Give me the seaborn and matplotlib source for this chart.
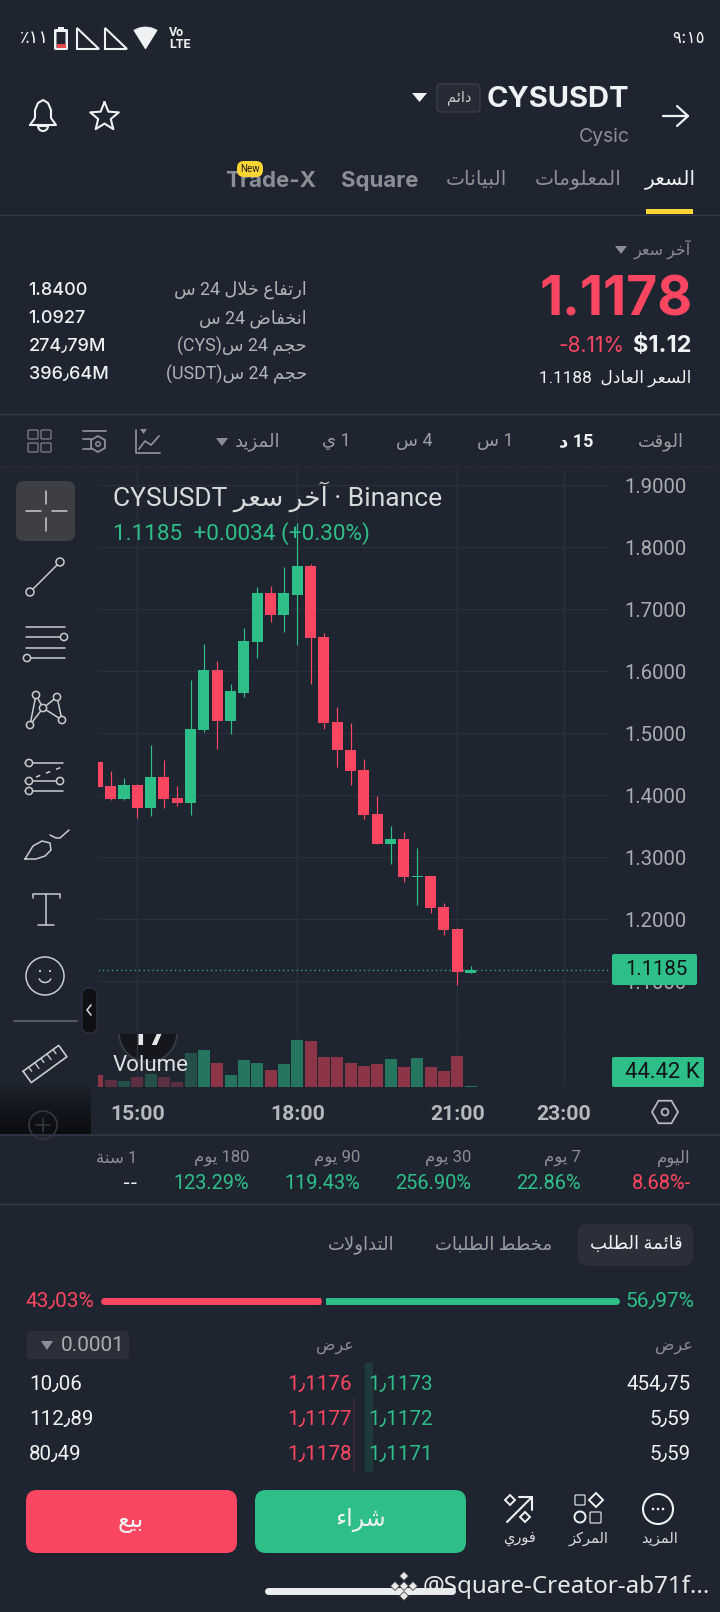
# -*- coding: utf-8 -*-
import re
import numpy as np
import pandas as pd
import seaborn as sns
import matplotlib
matplotlib.use("Agg")
import matplotlib.pyplot as plt
from matplotlib.patches import Circle, Ellipse, FancyBboxPatch, Polygon, Rectangle, RegularPolygon, Wedge

# 15 min candles, index 0 is 15:00
candle_idx = list(range(-3, 26))
candle_open = [1.4537, 1.4150, 1.3940, 1.4166, 1.3795, 1.4295, 1.3956, 1.3876, 1.5053, 1.6021,
               1.5198, 1.5650, 1.6473, 1.7263, 1.6908, 1.7231, 1.7698, 1.6553, 1.5182, 1.4731,
               1.4408, 1.3698, 1.3215, 1.3295, 1.2682, 1.2698, 1.2198, 1.1844, 1.1135]
candle_close = [1.4134, 1.3940, 1.4166, 1.3795, 1.4295, 1.3940, 1.3876, 1.5069, 1.6021, 1.5198,
                1.5682, 1.6489, 1.7263, 1.6908, 1.7263, 1.7698, 1.6537, 1.5166, 1.4731, 1.4392,
                1.3682, 1.3215, 1.3295, 1.2682, 1.2698, 1.2182, 1.1827, 1.1150, 1.1185]
candle_high = [1.4537, 1.4392, 1.4279, 1.4182, 1.4811, 1.4569, 1.4150, 1.5860, 1.6440, 1.6166,
               1.5795, 1.6698, 1.7360, 1.7376, 1.7682, 1.8392, 1.7731, 1.6618, 1.5424, 1.5166,
               1.4586, 1.3989, 1.3505, 1.3408, 1.3150, 1.2698, 1.2263, 1.1860, 1.1247]
candle_low = [1.4134, 1.3924, 1.3924, 1.3634, 1.3666, 1.3795, 1.3827, 1.3682, 1.5021, 1.4747,
              1.4989, 1.5585, 1.6215, 1.6795, 1.6634, 1.6424, 1.5795, 1.5069, 1.4456, 1.4166,
              1.3618, 1.3215, 1.2892, 1.2602, 1.2231, 1.2102, 1.1747, 1.0940, 1.1135]
volume_k = [490, 310, 265, 400, 575, 400, 220, 1510, 1640, 1065, 530, 1155, 1065, 755, 1020,
            2085, 2040, 1330, 1330, 1065, 930, 1020, 1200, 845, 1285, 845, 710, 1375, 44.42]
last_price = 1.1185
price_ticks = [1.1, 1.2, 1.3, 1.4, 1.5, 1.6, 1.7, 1.8, 1.9]
time_ticks = [0, 12, 24, 32]
time_labels = ["15:00", "18:00", "21:00", "23:00"]

# text of the screen
tabs = ["السعر", "المعلومات", "البيانات"]
stat_labels = ["ارتفاع خلال 24 س", "انخفاض 24 س", "حجم 24 س(CYS)", "حجم 24 س(USDT)"]
stat_values = ["1.8400", "1.0927", "274٫79M", "396٫64M"]
frames = ["الوقت", "15 د", "1 س", "4 س", "1 ي", "المزيد"]
perf_labels = ["اليوم", "7 يوم", "30 يوم", "90 يوم", "180 يوم", "1 سنة"]
perf_values = ["8.68%-", "22.86%", "256.90%", "119.43%", "123.29%", "--"]
bid_sizes = ["454٫75", "5٫59", "5٫59"]
bid_prices = ["1٫1173", "1٫1172", "1٫1171"]
ask_sizes = ["10٫06", "112٫89", "80٫49"]
ask_prices = ["1٫1176", "1٫1177", "1٫1178"]

BG = "#1F2530"
GRID = "#2B313C"
LINE = "#333945"
GREEN = "#2EBF88"
RED = "#FB4661"
WHITE = "#F0F1F2"
GRAY = "#8A8E96"
LIGHT = "#B5B8BD"

# matplotlib does not shape arabic, so the presentation forms are picked here
ar_forms = {"ء": (0xFE80, 1), "آ": (0xFE81, 2), "أ": (0xFE83, 2), "ؤ": (0xFE85, 2), "إ": (0xFE87, 2),
            "ئ": (0xFE89, 4), "ا": (0xFE8D, 2), "ب": (0xFE8F, 4), "ة": (0xFE93, 2), "ت": (0xFE95, 4),
            "ث": (0xFE99, 4), "ج": (0xFE9D, 4), "ح": (0xFEA1, 4), "خ": (0xFEA5, 4), "د": (0xFEA9, 2),
            "ذ": (0xFEAB, 2), "ر": (0xFEAD, 2), "ز": (0xFEAF, 2), "س": (0xFEB1, 4), "ش": (0xFEB5, 4),
            "ص": (0xFEB9, 4), "ض": (0xFEBD, 4), "ط": (0xFEC1, 4), "ظ": (0xFEC5, 4), "ع": (0xFEC9, 4),
            "غ": (0xFECD, 4), "ف": (0xFED1, 4), "ق": (0xFED5, 4), "ك": (0xFED9, 4), "ل": (0xFEDD, 4),
            "م": (0xFEE1, 4), "ن": (0xFEE5, 4), "ه": (0xFEE9, 4), "و": (0xFEED, 2), "ى": (0xFEEF, 2),
            "ي": (0xFEF1, 4)}
lam_alef = {"ا": 0xFEFB, "آ": 0xFEF5, "أ": 0xFEF7, "إ": 0xFEF9}


def shape_word(word):
    out = []
    i = 0
    prev_joins = False
    while i < len(word):
        ch = word[i]
        if ch == "ل" and i + 1 < len(word) and word[i + 1] in lam_alef:
            out.append(chr(lam_alef[word[i + 1]] + (1 if prev_joins else 0)))
            prev_joins = False
            i += 2
            continue
        base, n = ar_forms[ch]
        next_ok = i + 1 < len(word)
        if n == 1:
            out.append(chr(base))
            prev_joins = False
        elif n == 2:
            out.append(chr(base + (1 if prev_joins else 0)))
            prev_joins = False
        else:
            if prev_joins and next_ok:
                out.append(chr(base + 3))
            elif prev_joins:
                out.append(chr(base + 1))
            elif next_ok:
                out.append(chr(base + 2))
            else:
                out.append(chr(base))
            prev_joins = next_ok
        i += 1
    return "".join(reversed(out))


def ar(s):
    parts = re.findall(r"[\u0621-\u064A]+|\s+|[^\u0621-\u064A\s]+", s)
    return "".join(shape_word(p) if p[0] in ar_forms else p for p in reversed(parts))


sns.set_theme(style="darkgrid", rc={"axes.facecolor": BG, "figure.facecolor": BG, "grid.color": GRID,
                                    "grid.linewidth": 0.9, "axes.edgecolor": BG,
                                    "patch.force_edgecolor": False})
plt.rcParams["font.family"] = ["Roboto", "DejaVu Sans"]

W, H = 720, 1612
fig = plt.figure(figsize=(W / 100, H / 100), dpi=100)


def px_axes(left, top, right, bottom, z):
    return fig.add_axes([left / W, 1 - bottom / H, (right - left) / W, (bottom - top) / H], zorder=z)


under = px_axes(0, 0, W, H, 0)
ui = px_axes(0, 0, W, H, 5)
for a in (under, ui):
    a.set_xlim(0, W)
    a.set_ylim(H, 0)
    a.axis("off")
ui.patch.set_alpha(0)


def txt(x, y, s, size=13, color=WHITE, ha="left", weight="normal", family=None, zorder=5):
    # va center counts the descent too, so push it back down a little
    return ui.text(x, y + size * 0.1, s, fontsize=size, color=color, ha=ha, va="center", fontweight=weight,
                   family=family if family else ["Roboto", "DejaVu Sans"], zorder=zorder)


def box(x0, y0, x1, y1, color, r=0, edge="none", a=None, z=2):
    a = a if a else ui
    p = FancyBboxPatch((x0, y0), x1 - x0, y1 - y0, boxstyle=f"round,pad=0,rounding_size={r}",
                       fc=color, ec=edge, lw=0.8, zorder=z)
    a.add_patch(p)
    return p


def tri(x0, x1, y0, y1, color):
    ui.add_patch(Polygon([(x0, y0), (x1, y0), ((x0 + x1) / 2, y1)], fc=color, ec="none", zorder=4))


def stroke(xs, ys, color=WHITE, lw=1.4, z=4, **kw):
    ui.plot(xs, ys, color=color, lw=lw, zorder=z, solid_capstyle="round", **kw)


def ring(x, y, r, color="#C9CBCE", lw=1.1, fill=BG):
    ui.add_patch(Circle((x, y), r, fc=fill, ec=color, lw=lw, zorder=5))


# ------- price chart
df = pd.DataFrame({"idx": candle_idx, "open": candle_open, "close": candle_close,
                   "high": candle_high, "low": candle_low, "vol": volume_k})
df["up"] = df["close"] >= df["open"]
df["tone"] = [("g" if u else "r") + ("_dim" if -2 <= i <= 4 else "") for u, i in zip(df["up"], df["idx"])]

x_left = (98 - 137.3) / 13.333
x_right = (611 - 137.3) / 13.333
ax = px_axes(98, 468, 611, 1032.5, 1)
ax.set_xlim(x_left, x_right)
ax.set_ylim(1.1 - (1032.5 - 981.3) / 620, 1.1 + (981.3 - 468) / 620)
ax.set_xticks(time_ticks)
ax.set_yticks(price_ticks)
ax.set_yticklabels([f"{v:.4f}" for v in price_ticks])
ax.yaxis.tick_right()
ax.tick_params(axis="y", length=0, pad=9.5, labelsize=14.7, labelcolor="#A9ACB2")
ax.tick_params(axis="x", length=0, labelbottom=False)
ax.grid(True)
ax.set_axisbelow(True)

colors = df["up"].map({True: GREEN, False: RED})
ax.vlines(df["idx"], df["low"], df["high"], colors=colors, lw=0.85, zorder=3)
ax.bar(df["idx"], (df["close"] - df["open"]).abs(), bottom=df[["open", "close"]].min(axis=1),
       width=0.83, color=colors, linewidth=0, zorder=4)
ax.axhline(last_price, color=GREEN, lw=0.9, ls=(0, (1, 2.6)), zorder=2)

# ------- volume
vax = px_axes(98, 1032.5, 611, 1086.5, 1)
sns.barplot(data=df, x="idx", y="vol", hue="tone", native_scale=True, dodge=False, width=0.9, saturation=1,
            palette={"g": "#26755F", "r": "#8B3547", "g_dim": "#245049", "r_dim": "#5A3040"},
            legend=False, errorbar=None, linewidth=0, ax=vax, zorder=3)
vax.set_xlim(x_left, x_right)
vax.set_ylim(0, 54 * 44.42)
vax.set_xlabel("")
vax.set_ylabel("")
vax.set_yticks([])
vax.set_xticks(time_ticks)
vax.set_xticklabels(time_labels)
vax.tick_params(axis="x", length=0, pad=13, labelsize=15.3, labelcolor=LIGHT)
for t in vax.get_xticklabels():
    t.set_fontweight("bold")
vax.grid(True, axis="x")
vax.grid(False, axis="y")
vax.patch.set_alpha(0)
vax.set_axisbelow(True)

# logo cut by the volume pane, it sits below the bars
clip = Rectangle((98, 1034), 120, 40, transform=under.transData)
logo = Circle((148, 1033), 29, fc="#15171C", ec="#3A3D44", lw=1.2, zorder=1)
under.add_patch(logo)
logo.set_clip_path(clip)
t17 = under.text(148, 1036, "17", fontsize=24, fontweight="bold", color="#E6E6E6", ha="center", va="center", zorder=2)
t17.set_clip_path(clip)

# ------- status bar
txt(20, 37, "٪١١", 13, family="DejaVu Sans")
box(54, 29, 68, 50, WHITE, r=1.5)
box(56.5, 32, 65.5, 48, BG, r=0.5, z=3)
ui.add_patch(Rectangle((56.5, 44), 9, 4, fc="#E5484D", zorder=4))
ui.add_patch(Rectangle((58, 27), 6, 2, fc=WHITE))
for x0 in (77, 105):
    ui.add_patch(Polygon([(x0, 28), (x0 + 22, 49), (x0, 49)], fc=BG, ec=WHITE, lw=1.5))
ui.add_patch(Wedge((145.5, 49), 22, 238, 302, fc=WHITE, ec=WHITE, lw=0.5))
txt(169, 32, "Vo", 9, weight="bold")
txt(169, 44, "LTE", 9, weight="bold")
txt(705, 37, "٩:١٥", 12, ha="right", family="DejaVu Sans")

# ------- header
bell = [(30, 125), (35, 118), (35, 110), (38, 103), (43, 100), (48, 103), (51, 110), (51, 118), (56, 125), (30, 125)]
stroke(*zip(*bell), lw=1.5)
ui.add_patch(Wedge((43, 126), 5, 0, 180, fc="none", ec=WHITE, lw=1.5))
ang = np.deg2rad(np.arange(11) * 36 - 90)
rad = np.where(np.arange(11) % 2 == 0, 15, 6.6)
stroke(104.5 + rad * np.cos(ang), 117 + rad * np.sin(ang), lw=1.5)
stroke([663, 688], [116, 116], lw=1.6)
stroke([677, 688, 677], [106, 116, 126], lw=1.6)
txt(629, 97, "CYSUSDT", 21, ha="right", weight="bold", family="Inter")
box(437, 84, 480, 112, "#262B36", r=4, edge="#3C414C")
txt(459, 97, ar("دائم"), 10.5, "#C9CBCE", ha="center")
tri(412, 427, 93, 102, WHITE)
txt(630, 136, "Cysic", 14, GRAY, ha="right", family="Inter")

for s, c, col in zip(tabs, (670, 578, 476), (WHITE, GRAY, GRAY)):
    txt(c, 178, ar(s), 14.6, col, ha="center")
txt(380, 179, "Square", 16, GRAY, ha="center", weight="bold", family="Inter")
txt(271, 179, "Trade-X", 16, GRAY, ha="center", weight="bold", family="Inter")
box(237, 161, 263, 177, "#FCD535", r=7, z=6)
txt(250, 168, "New", 7, "#1A1A1A", ha="center", zorder=7)
ui.add_patch(Rectangle((646, 209), 47, 5, fc="#FCD535", zorder=3))
ui.plot([0, W], [214.5, 214.5], color=LINE, lw=1)

# ------- ticker block
txt(691, 248, ar("آخر سعر"), 11.5, GRAY, ha="right")
tri(615, 627, 246, 254, GRAY)
txt(693, 297, "1.1178", 38.5, RED, ha="right", weight="bold", family="Inter")
txt(691, 344, "$1.12", 17, ha="right", weight="bold", family="Inter")
txt(624, 344, "-8.11%", 15, RED, ha="right", family="Inter")
txt(691, 377, "1.1188  " + ar("السعر العادل"), 12.3, ha="right")
for y, lab, val in zip((290, 318, 346, 374), stat_labels, stat_values):
    txt(307, y - 1, ar(lab), 12.8, "#B0B3B8", ha="right")
    txt(28.5, y - 1, val, 13, weight="medium", family=["Inter", "DejaVu Sans"])
ui.plot([0, W], [413.5, 413.5], color=LINE, lw=1)

# ------- timeframe row
for s, c in zip(frames, (661, 576, 495, 414, 336, 258)):
    on = s == frames[1]
    txt(c, 440, ar(s), 13, WHITE if on else "#9A9DA3", ha="center", weight="bold" if on else "normal")
tri(216, 228, 438, 446, GRAY)
stroke([136, 136, 160], [430, 453, 453], GRAY, 1.3)
stroke([139, 145, 151, 159], [449, 441, 445, 436], GRAY, 1.3)
tri(140, 147, 429, 434, GRAY)
stroke([83, 106], [431, 431], GRAY, 1.3)
stroke([83, 91], [439, 439], GRAY, 1.3)
stroke([83, 91], [449, 449], GRAY, 1.3)
ui.add_patch(RegularPolygon((98, 444), 6, radius=8, fc="none", ec=GRAY, lw=1.3))
ui.add_patch(Circle((98, 444), 2.2, fc="none", ec=GRAY, lw=1.1))
for gx in (28, 41):
    for gy in (430, 443):
        box(gx, gy, gx + 10, gy + 9, "none", r=1, edge=GRAY)
ui.plot([0, W], [467, 467], color="#2A2F3A", lw=1.2, ls=(0, (1, 1)))

# ------- chart texts and tags
txt(113, 495, "CYSUSDT " + ar("آخر سعر") + " · Binance", 19, "#D8DADC")
txt(113, 532, "1.1185  +0.0034 (+0.30%)", 16.2, GREEN)
txt(113, 1064, "Volume", 16, "#E0E1E3")
box(612, 954, 697, 985, GREEN, r=2)
txt(625, 968, f"{last_price:.4f}", 14.7, "#101318", zorder=6)
box(612, 1057, 704, 1087, GREEN, r=2)
txt(625, 1070.5, f"{volume_k[-1]:.2f} K", 15.8, "#101318", zorder=6)
ui.add_patch(RegularPolygon((665, 1112), 6, radius=13, orientation=np.pi / 6, fc="none", ec=LIGHT, lw=1.3))
ui.add_patch(Circle((665, 1112), 3.4, fc="none", ec=LIGHT, lw=1.3))

# ------- drawing tools
TOOL = "#C9CBCE"
box(16, 481, 75, 541, "#3D3F44", r=8)
stroke([26, 41], [511, 511], TOOL, 1.1)
stroke([52, 67], [511, 511], TOOL, 1.1)
stroke([46, 46], [491, 504], TOOL, 1.1)
stroke([46, 46], [518, 531], TOOL, 1.1)
stroke([30, 60], [592, 562], TOOL, 1.1)
ring(30, 592, 4)
ring(60, 562, 4)
for y, x0, x1 in ((627, 26, 65), (637, 26, 64), (648, 26, 65), (658, 27, 65)):
    stroke([x0, x1], [y, y], TOOL, 1.1)
ring(64, 637, 3.6)
ring(27, 658, 3.6)
pts = [(30, 725), (36, 695), (43, 708), (57, 697), (62, 720), (43, 708), (30, 725)]
stroke(*zip(*pts), TOOL, 1.1)
for p in pts[:5]:
    ring(p[0], p[1], 3.6)
stroke([25, 63], [763, 763], TOOL, 1.1)
stroke([25, 63], [781, 781], TOOL, 1.1)
stroke([25, 63], [791, 791], TOOL, 1.1)
ui.plot([36, 62], [777, 767], color=TOOL, lw=1.1, ls=(0, (3, 4)))
for p in ((29, 763), (29, 781), (60, 781), (29, 791)):
    ring(p[0], p[1], 3.6)
leaf = [(25, 859), (33, 846), (42, 841), (50, 843), (51, 850), (45, 856), (36, 859), (25, 859)]
stroke(*zip(*leaf), TOOL, 1.1)
stroke([50, 56, 60, 69], [835, 838, 838, 830], TOOL, 1.1)
stroke([33, 33, 60, 60], [898, 894, 894, 898], TOOL, 1.1)
stroke([46, 46], [894, 925], TOOL, 1.1)
stroke([38, 54], [925, 925], TOOL, 1.1)
ui.add_patch(Ellipse((45, 976), 38, 38, fc="none", ec=TOOL, lw=1.1))
ui.add_patch(Circle((40, 971), 1.1, fc=TOOL))
ui.add_patch(Circle((50, 971), 1.1, fc=TOOL))
smile = np.linspace(0.15, 0.85, 12) * np.pi
stroke(45 + 6.5 * np.cos(smile), 976 + 6.5 * np.sin(smile), TOOL, 1.1)
ui.plot([14, 77], [1021, 1021], color="#55565C", lw=1.5)
box(82, 988, 97, 1033, "#0E1014", r=7, edge="#33363D", z=6)
stroke([91, 87, 91], [1005, 1010, 1015], "#D0D2D4", 1.2, z=7)
rul = np.deg2rad(-36)
rx, ry = np.cos(rul), np.sin(rul)
corn = [(-22, -7), (22, -7), (22, 7), (-22, 7), (-22, -7)]
stroke([45 + a * rx - b * ry for a, b in corn], [1064 + a * ry + b * rx for a, b in corn], TOOL, 1.2)
for k, a in enumerate(np.arange(-15, 20, 7.5)):
    b1 = -7 + (7 if k % 2 else 5)
    stroke([45 + a * rx + 7 * ry, 45 + a * rx - b1 * ry], [1064 + a * ry - 7 * rx, 1064 + a * ry + b1 * rx], TOOL, 1)
ui.imshow(np.linspace(0, 1, 50)[:, None] ** 0.7, extent=(0, 91, 1135, 1085), aspect="auto", zorder=2,
          cmap=matplotlib.colors.LinearSegmentedColormap.from_list("fade", [BG, "#0B0C0F"]))
ui.set_xlim(0, W)
ui.set_ylim(H, 0)
ui.add_patch(Circle((43, 1125), 14, fc="none", ec="#33363D", lw=1.2, zorder=3, clip_path=Rectangle((0, 1085), 91, 50, transform=ui.transData)))
ui.plot([36, 50], [1125, 1125], color="#33363D", lw=1.2, zorder=3)
ui.plot([43, 43], [1118, 1132], color="#33363D", lw=1.2, zorder=3)

# ------- performance row
ui.plot([0, W], [1135, 1135], color=LINE, lw=1.2, zorder=3)
for r, lab, val in zip((691, 581, 471.5, 360, 249, 137), perf_labels, perf_values):
    txt(r, 1157, ar(lab), 12, GRAY, ha="right")
    c = WHITE if val == "--" else RED if val.endswith("-") else GREEN
    txt(r, 1182, val, 14.4, c, ha="right", family="DejaVu Sans" if val == "--" else None)
ui.plot([0, W], [1204, 1204], color=LINE, lw=1)

# ------- order book
box(578, 1224, 693, 1266, "#2A2F3A", r=9)
txt(636, 1243, ar("قائمة الطلب"), 13, ha="center")
txt(494, 1243, ar("مخطط الطلبات"), 13, "#9A9DA3", ha="center")
txt(361, 1243, ar("التداولات"), 13, "#9A9DA3", ha="center")
txt(26, 1300, "43٫03%", 15, RED)
txt(694, 1300, "56٫97%", 15, GREEN, ha="right")
ui.plot([104, 318], [1301, 1301], color=RED, lw=5, solid_capstyle="round")
ui.plot([329, 616], [1301, 1301], color=GREEN, lw=5, solid_capstyle="round")
ui.add_patch(Rectangle((318, 1297.5), 3, 7, fc=RED, zorder=3))
ui.add_patch(Rectangle((326, 1297.5), 3, 7, fc=GREEN, zorder=3))
box(27, 1331, 129, 1359, "#2A2F3A", r=4)
tri(41, 53, 1341, 1350, GRAY)
txt(61, 1344, "0.0001", 15, "#A9ACB2")
txt(354, 1345, ar("عرض"), 11.5, GRAY, ha="right")
txt(693, 1345, ar("عرض"), 11.5, GRAY, ha="right")
ui.add_patch(Rectangle((365, 1363), 8, 109, fc="#1F3A3D", zorder=2))
ui.add_patch(Rectangle((352.5, 1398), 2, 74, fc="#3A2A33", zorder=2))
for y, a1, a2, b1, b2 in zip((1384, 1419, 1454), ask_sizes, ask_prices, bid_prices, bid_sizes):
    txt(29, y - 1, a1, 14.8)
    txt(352, y - 1, a2, 14.8, RED, ha="right")
    txt(368, y - 1, b1, 14.8, GREEN)
    txt(691, y - 1, b2, 14.8, ha="right")

# ------- bottom buttons
box(26, 1490, 237, 1553, RED, r=11)
box(255, 1490, 466, 1553, GREEN, r=11)
txt(131, 1520, ar("بيع"), 17, ha="center")
txt(360, 1518, ar("شراء"), 17, ha="center")
ui.add_patch(Circle((658, 1509), 15, fc="none", ec=WHITE, lw=1.5))
for dx in (-5, 0, 5):
    ui.add_patch(Circle((658 + dx, 1509), 1.3, fc=WHITE))
box(575, 1495, 585, 1505, "none", r=1, edge=WHITE)
ui.add_patch(RegularPolygon((596, 1500), 4, radius=7, fc="none", ec=WHITE, lw=1.4))
ui.add_patch(Circle((580, 1517), 5.5, fc="none", ec=WHITE, lw=1.4))
box(590, 1512, 601, 1523, "none", r=1, edge=WHITE)
stroke([507, 532], [1522, 1497], lw=1.5)
stroke([519, 532, 532], [1497, 1497, 1510], lw=1.5)
ui.add_patch(RegularPolygon((510, 1500), 4, radius=5, fc="none", ec=WHITE, lw=1.4))
ui.add_patch(RegularPolygon((525, 1517), 4, radius=5, fc="none", ec=WHITE, lw=1.4))
for c, s in zip((659, 589, 519), ("المزيد", "المركز", "فوري")):
    txt(c, 1538, ar(s), 10.5, "#D8DADC", ha="center")
stroke([268, 452], [1591, 1591], "#ECEDEE", 5)
for dx, dy in ((0, -10), (-9, 0), (9, 0), (0, 10), (0, 0)):
    ui.add_patch(RegularPolygon((404 + dx, 1586 + dy), 4, radius=4.5, fc="#E8E8E8", ec="#333333", lw=0.5, zorder=6))
txt(423, 1585, "@Square-Creator-ab71f...", 17.4, "#E8E8E8", family="Noto Sans", zorder=6)

fig.savefig("out.png", dpi=100, facecolor=BG)
